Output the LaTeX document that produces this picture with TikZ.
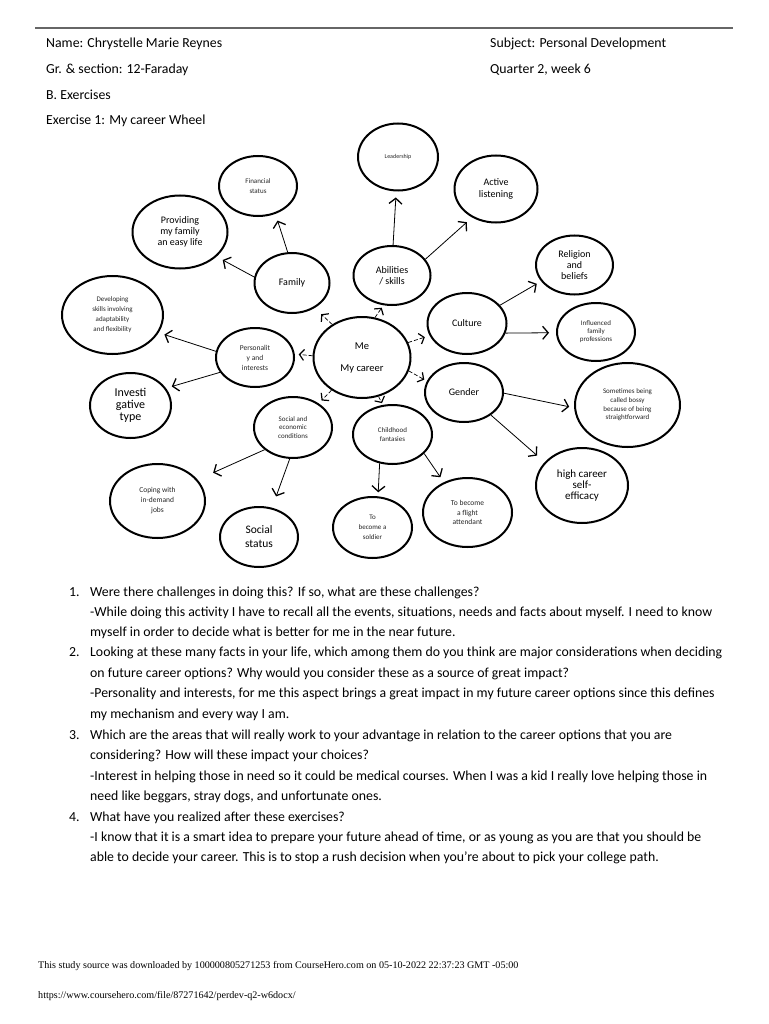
\documentclass[tikz,border=0pt]{standalone}
\usepackage{fontspec}
\setmainfont{Carlito}
\newfontfamily\serifft{Liberation Serif}
\usetikzlibrary{shapes.geometric,arrows.meta}
\begin{document}
\begin{tikzpicture}[x=1pt,y=-1pt,
  bub/.style={ellipse, draw, line width=2pt, inner sep=0pt, align=center, text=black},
  arr/.style={line width=0.8pt, -{Straight Barb[length=5.5pt,width=13pt,line width=1.3pt]}},
  mearr/.style={line width=0.7pt, dash pattern=on 4pt off 2pt, -{Straight Barb[length=4.5pt,width=11pt,line width=1.2pt]}},
  body/.style={anchor=base west, inner sep=0pt, font=\fontsize{13.8}{16}\selectfont},
  foot/.style={anchor=base west, inner sep=0pt, font=\serifft\fontsize{10.1}{12}\selectfont},
  big/.style={font=\fontsize{10}{11.3}\selectfont},
  tiny/.style={font=\fontsize{7}{10}\selectfont, text=black!85}
]
\useasboundingbox (0,0) rectangle (768,1024);
\fill[white] (0,0) rectangle (768,1024);
\draw[line width=1.5pt, black!60] (35,28) -- (733,28);

% header
\node[body] (name) at (46,47.5) {Name: Chrystelle Marie Reynes};
\node[body] (subj) at (490,47.5) {Subject: Personal Development};
\node[body] (gr) at (46,73.5) {Gr. \& section: 12-Faraday};
\node[body] (qtr) at (490,73.5) {Quarter 2, week 6};
\node[body] (bex) at (46,99.5) {B. Exercises};
\node[body] (ex1) at (46,124.5) {Exercise 1: My career Wheel};

% bubbles
\node[bub, minimum width=80pt, minimum height=67pt, font=\fontsize{6}{8}\selectfont, text=black!85] (lead) at (398,157) {Leadership};
\node[bub, big, minimum width=83pt, minimum height=67pt] (act) at (496,189) {Active\\listening};
\node[bub, tiny, minimum width=78pt, minimum height=60pt] (fin) at (258,186) {Financial\\status};
\node[bub, big, minimum width=95pt, minimum height=73pt, font=\fontsize{10}{11}\selectfont] (prov) at (180,232) {Providing\\my family\\an easy life};
\node[bub, big, minimum width=77pt, minimum height=59pt, font=\fontsize{10}{11}\selectfont] (abil) at (392,275.5) {Abilities\\/ skills};
\node[bub, big, minimum width=77pt, minimum height=59pt, font=\fontsize{10}{11}\selectfont] (rel) at (574.5,265) {Religion\\and\\beliefs};
\node[bub, big, minimum width=75pt, minimum height=60pt] (fam) at (292,283) {Family};
\node[bub, tiny, minimum width=101pt, minimum height=78pt] (dev) at (112.5,315) {Developing\\skills involving\\adaptability\\and flexibility};
\node[bub, big, minimum width=79pt, minimum height=61pt] (cul) at (467,323.5) {Culture};
\node[bub, tiny, minimum width=78pt, minimum height=58pt, font=\fontsize{7}{8}\selectfont] (inf) at (596,332) {Influenced\\family\\professions};
\node[bub, tiny, minimum width=78pt, minimum height=59pt, font=\fontsize{7.5}{10}\selectfont] (pers) at (255,357.5) {Personalit\\y and\\interests};
\node[bub, minimum width=97pt, minimum height=81pt, font=\fontsize{10.5}{11}\selectfont] (me) at (362,357.5) {Me\\[11pt]My career};
\node[bub, big, minimum width=78pt, minimum height=59pt] (gen) at (464,392.5) {Gender};
\node[bub, minimum width=81pt, minimum height=65pt, font=\fontsize{12}{12}\selectfont] (inv) at (130.5,405.5) {Investi\\gative\\type};
\node[bub, tiny, minimum width=105pt, minimum height=84pt, font=\fontsize{7}{8.7}\selectfont] (som) at (627.5,405) {Sometimes being\\called bossy\\because of being\\straightforward};
\node[bub, tiny, minimum width=78pt, minimum height=61pt, font=\fontsize{7}{8.3}\selectfont] (se) at (293,427.5) {Social and\\economic\\conditions};
\node[bub, tiny, minimum width=79pt, minimum height=59pt, font=\fontsize{7}{9}\selectfont] (ch) at (392.5,434.5) {Childhood\\fantasies};
\node[bub, minimum width=92pt, minimum height=75pt, font=\fontsize{11}{11.3}\selectfont] (hc) at (582,485.5) {high career\\self-\\efficacy};
\node[bub, tiny, minimum width=95pt, minimum height=74pt, font=\fontsize{7.5}{10}\selectfont] (cop) at (157.5,501) {Coping with\\in-demand\\jobs};
\node[bub, tiny, minimum width=89pt, minimum height=69pt, font=\fontsize{7.5}{9.7}\selectfont] (fl) at (467.5,512.5) {To become\\a flight\\attendant};
\node[bub, tiny, minimum width=79pt, minimum height=61pt] (sol) at (372.5,527.5) {To\\become a\\soldier};
\node[bub, minimum width=78pt, minimum height=60pt, font=\fontsize{11.5}{14}\selectfont] (ss) at (259,537) {Social\\status};

% arrows
\draw[arr, shorten >=7pt] (fam.98) -- (fin.-58);
\draw[arr, shorten >=7pt] (fam.171) -- (prov.-34);
\draw[arr, shorten >=6pt] (abil.88) -- (lead.-93);
\draw[arr, shorten >=7pt] (abil.26) -- (act.-130);
\draw[mearr, shorten >=9pt] (me.132) -- (fam.-48);
\draw[mearr, shorten >=3pt] (me.72) -- (abil.-106);
\draw[mearr, shorten >=5pt] (me.18) -- (cul.-162);
\draw[mearr, shorten >=3pt] (me.-16) -- (gen.163);
\draw[mearr, shorten >=2pt] (me.-67) -- (ch.108);
\draw[mearr, shorten >=4pt] (me.-133) -- (se.43);
\draw[mearr, shorten >=4pt] (me.178) -- (pers.5);
\draw[arr, shorten >=6pt] (pers.171) -- (dev.-21);
\draw[arr, shorten >=6pt] (pers.-157) -- (inv.26);
\draw[arr, shorten >=5pt] (cul.29) -- (rel.-154);
\draw[arr, shorten >=7pt] (cul.-14) -- (inf.-179);
\draw[arr, shorten >=5pt] (gen.-1) -- (som.-177);
\draw[arr, shorten >=10pt] (gen.-40) -- (hc.148);
\draw[arr, shorten >=17pt] (se.-142) -- (cop.28);
\draw[arr, shorten >=12pt] (se.-96) -- (ss.66);
\draw[arr, shorten >=4pt] (ch.-114) -- (sol.80);
\draw[arr, shorten >=6pt] (ch.-31) -- (fl.128);

% questions
\node[body] (n1) at (69,596) {1.};
\node[body] (l1) at (90,596) {Were there challenges in doing this? If so, what are these challenges?};
\node[body] (l2) at (90,616.5) {-While doing this activity I have to recall all the events, situations, needs and facts about myself. I need to know};
\node[body] (l3) at (90,636.5) {myself in order to decide what is better for me in the near future.};
\node[body] (n2) at (69,656.5) {2.};
\node[body] (l4) at (90,656.5) {Looking at these many facts in your life, which among them do you think are major considerations when deciding};
\node[body] (l5) at (90,677.5) {on future career options? Why would you consider these as a source of great impact?};
\node[body] (l6) at (90,697.5) {-Personality and interests, for me this aspect brings a great impact in my future career options since this defines};
\node[body] (l7) at (90,718.5) {my mechanism and every way I am.};
\node[body] (n3) at (69,739) {3.};
\node[body] (l8) at (90,739) {Which are the areas that will really work to your advantage in relation to the career options that you are};
\node[body] (l9) at (90,759) {considering? How will these impact your choices?};
\node[body] (l10) at (90,780) {-Interest in helping those in need so it could be medical courses. When I was a kid I really love helping those in};
\node[body] (l11) at (90,800) {need like beggars, stray dogs, and unfortunate ones.};
\node[body] (n4) at (69,821) {4.};
\node[body] (l12) at (90,821) {What have you realized after these exercises?};
\node[body] (l13) at (90,841.5) {-I know that it is a smart idea to prepare your future ahead of time, or as young as you are that you should be};
\node[body] (l14) at (90,861.5) {able to decide your career. This is to stop a rush decision when you’re about to pick your college path.};

% footer
\node[foot] (f1) at (38,968.5) {This study source was downloaded by 100000805271253 from CourseHero.com on 05-10-2022 22:37:23 GMT -05:00};
\node[foot] (f2) at (38,998.5) {https://www.coursehero.com/file/87271642/perdev-q2-w6docx/};
\end{tikzpicture}
\end{document}
